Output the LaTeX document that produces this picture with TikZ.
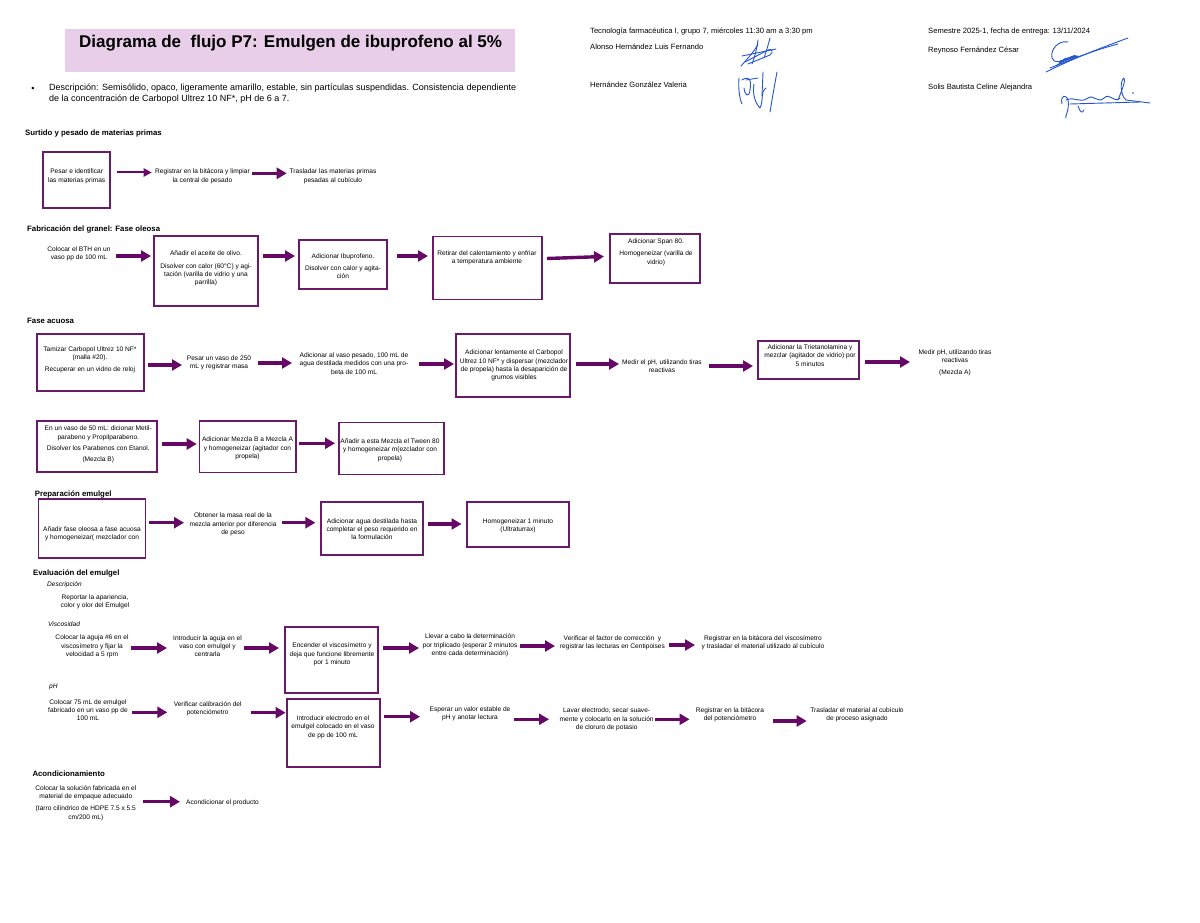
\documentclass[tikz,border=0pt]{standalone}
\usepackage{fontspec}
\setmainfont{Liberation Sans}
\usetikzlibrary{arrows.meta}
\definecolor{boxc}{RGB}{106,26,106}
\definecolor{arrc}{RGB}{102,8,102}
\definecolor{titlef}{RGB}{232,206,232}
\definecolor{sigc}{RGB}{35,85,205}
\begin{document}
\begin{tikzpicture}[x=1pt,y=-1pt,
  txt/.style={font=\fontsize{6.6}{8.3}\selectfont, align=center, inner sep=0pt},
  pbox/.style={draw=boxc, line width=1.6pt, fill=white, inner sep=0pt},
  arr/.style={draw=arrc, line width=3.4pt, -{Triangle[length=10pt,width=11pt]}},
  arrthin/.style={draw=arrc, line width=2pt, -{Triangle[length=8pt,width=8pt]}},
  head/.style={font=\fontsize{7.8}{9}\selectfont\bfseries, anchor=west, inner sep=0pt},
  lab/.style={font=\fontsize{6.6}{8}\selectfont\itshape, anchor=west, inner sep=0pt},
  info/.style={font=\fontsize{7.6}{9}\selectfont, anchor=west, inner sep=0pt},
  sg/.style={draw=sigc, line width=0.9pt, line cap=round, line join=round}
]
\fill[white] (0,0) rectangle (1200,923);
\useasboundingbox (0,0) rectangle (1200,923);

% ---------- header ----------
\node[fill=titlef, minimum width=450pt, minimum height=43pt, inner sep=0pt] (titlebox) at (290,51) {};
\node[font=\fontsize{17}{20}\selectfont\bfseries, inner sep=0pt] (title) at (290.6,43) {Diagrama de~ flujo P7: Emulgen de ibuprofeno al 5\%};
\node[font=\fontsize{9}{11}\selectfont, inner sep=0pt] (bullet) at (33,89) {•};
\node[font=\fontsize{9}{11.3}\selectfont, anchor=north west, align=left, inner sep=0pt] (desc) at (49,83.5) {Descripción: Semisólido, opaco, ligeramente amarillo, estable, sin partículas suspendidas. Consistencia dependiente\\de la concentración de Carbopol Ultrez 10 NF*, pH de 6 a 7.};

\node[info] (h1) at (590,31.5) {Tecnología farmacéutica I, grupo 7, miércoles 11:30 am a 3:30 pm};
\node[info] (h2) at (590,47) {Alonso Hernández Luis Fernando};
\node[info] (h3) at (590,84.5) {Hernández González Valeria};
\node[info] (h4) at (928,31.5) {Semestre 2025-1, fecha de entrega: 13/11/2024};
\node[info] (h5) at (928,50) {Reynoso Fernández César};
\node[info] (h6) at (928,88) {Solis Bautista Celine Alejandra};

% signatures
\draw[sg] (741,66) .. controls (748,58) and (754,52) .. (758,44);
\draw[sg] (745,62) -- (768,50) .. controls (772,48) and (774,52) .. (770,55) -- (748,64);
\draw[sg] (758,40) .. controls (757,48) and (755,56) .. (752,64);
\draw[sg] (770,38) .. controls (768,46) and (766,52) .. (764,58);
\draw[sg] (742,56) -- (776,49);

\draw[sg] (739,78) .. controls (738,90) and (740,100) .. (742,104);
\draw[sg] (742,80) .. controls (748,76) and (752,78) .. (750,90) .. controls (749,98) and (745,96) .. (744,88);
\draw[sg] (754,84) .. controls (752,95) and (756,104) .. (760,108) .. controls (764,100) and (760,92) .. (766,88);
\draw[sg] (763,72) -- (762,96);
\draw[sg] (777,72) .. controls (774,88) and (772,100) .. (770,112);
\draw[sg] (746,80) -- (758,78);

\draw[sg] (1068,42) .. controls (1058,40) and (1050,50) .. (1052,58) .. controls (1054,64) and (1062,62) .. (1066,58);
\draw[sg] (1046,72) .. controls (1070,60) and (1095,50) .. (1128,38);
\draw[sg] (1050,68) .. controls (1075,58) and (1095,50) .. (1118,44);
\draw[sg] (1056,66) .. controls (1066,58) and (1072,56) .. (1078,56) -- (1062,64);
\draw[sg, line width=2.2pt] (1060,62) -- (1075,56);

\draw[sg] (1062,104) .. controls (1060,95) and (1066,94) .. (1068,100) .. controls (1070,110) and (1064,118) .. (1066,118);
\draw[sg] (1066,100) .. controls (1075,96) and (1080,104) .. (1088,98) .. controls (1094,94) and (1098,104) .. (1104,98) .. controls (1110,92) and (1114,104) .. (1120,98);
\draw[sg] (1118,100) .. controls (1122,90) and (1126,80) .. (1124,78) .. controls (1120,80) and (1120,95) .. (1126,100) -- (1150,103);
\draw[sg] (1070,104) -- (1140,102);
\fill[sigc] (1133,93) circle (0.9);
\draw[sg] (1078,106) .. controls (1080,112) and (1082,114) .. (1084,110);

% ---------- Surtido ----------
\node[head] (s1) at (25,133) {Surtido y pesado de materias primas};
\node[pbox, minimum width=67.3pt, minimum height=56pt] (b1) at (76.35,180) {};
\node[txt] (t1) at (76.7,176.3) {Pesar e identificar\\las materias primas};
\node[txt] (t2) at (202.5,176.2) {Registrar en la bitácora y limpiar\\la central de pesado};
\node[txt] (t3) at (333,176.2) {Trasladar las materias primas\\pesadas al cubículo};
\coordinate (a1s) at (116.7,172.5); \coordinate (a1e) at (151.7,172.5);
\coordinate (a2s) at (251.7,173.3); \coordinate (a2e) at (286.7,173.3);
\draw[arrthin] (a1s) -- (a1e);
\draw[arr] (a2s) -- (a2e);

% ---------- Fase oleosa ----------
\node[head] (s2) at (27,229) {Fabricación del granel: Fase oleosa};
\node[txt] (t4) at (79,254) {Colocar el BTH en un\\vaso pp de 100 mL};
\node[pbox, minimum width=104pt, minimum height=70pt] (b5) at (206,271) {};
\node[txt] (t5) at (206,268.5) {Añadir el aceite de olivo.\\[4pt]Disolver con calor (60°C) y agi-\\tación (varilla de vidrio y una\\parrilla)};
\node[pbox, minimum width=88pt, minimum height=49pt] (b6) at (343,264.5) {};
\node[txt] (t6) at (343,266) {Adicionar Ibuprofeno.\\[4pt]Disolver con calor y agita-\\ción};
\node[pbox, minimum width=109pt, minimum height=63pt] (b7) at (487.5,268) {};
\node[txt] (t7) at (487,258) {Retirar del calentamiento y enfriar\\a temperatura ambiente};
\node[pbox, minimum width=90pt, minimum height=49pt] (b8) at (655,258.5) {};
\node[txt] (t8) at (656,252) {Adicionar Span 80.\\[4pt]Homogeneizar (varilla de\\vidrio)};
\coordinate (a3s) at (116,256); \coordinate (a3e) at (151,256);
\coordinate (a4s) at (263,256); \coordinate (a4e) at (295,256);
\coordinate (a5s) at (397,256); \coordinate (a5e) at (428,256);
\coordinate (a6s) at (547,258.5); \coordinate (a6e) at (604,256.5);
\draw[arr] (a3s) -- (a3e);
\draw[arr] (a4s) -- (a4e);
\draw[arr] (a5s) -- (a5e);
\draw[arr] (a6s) -- (a6e);

% ---------- Fase acuosa ----------
\node[head] (s3) at (27,321) {Fase acuosa};
\node[pbox, minimum width=107pt, minimum height=57pt] (b9) at (90.5,362.5) {};
\node[txt] (t9) at (90,359.5) {Tamizar Carbopol Ultrez 10 NF*\\(malla \#20).\\[3pt]Recuperar en un vidrio de reloj};
\node[txt] (t10) at (219,362.5) {Pesar un vaso de 250\\mL y registrar masa};
\node[txt] (t11) at (354,363.5) {Adicionar al vaso pesado, 100 mL de\\agua destilada medidos con una pro-\\beta de 100 mL};
\node[pbox, minimum width=114pt, minimum height=63pt] (b12) at (513,365.5) {};
\node[txt] (t12) at (514,365.5) {Adicionar lentamente el Carbopol\\Ultrez 10 NF* y dispersar (mezclador\\de propela) hasta la desaparición de\\grumos visibles};
\node[txt] (t13) at (662,366) {Medir el pH, utilizando tiras\\reactivas};
\node[pbox, minimum width=101pt, minimum height=38pt] (b14) at (808.5,360) {};
\node[txt] (t14) at (810,355.5) {Adicionar la Trietanolamina y\\mezclar (agitador de vidrio) por\\5 minutos};
\node[txt] (t15) at (955,362.5) {Medir pH, utilizando tiras\\reactivas\\[3pt](Mezcla A)};
\coordinate (a7s) at (148,365); \coordinate (a7e) at (182,365);
\coordinate (a8s) at (258,363); \coordinate (a8e) at (292,363);
\coordinate (a9s) at (419,364); \coordinate (a9e) at (454,364);
\coordinate (a10s) at (576,364); \coordinate (a10e) at (619,364);
\coordinate (a11s) at (709,366); \coordinate (a11e) at (753,366);
\coordinate (a12s) at (865,362); \coordinate (a12e) at (910,362);
\foreach \i in {7,...,12} {\draw[arr] (a\i s) -- (a\i e);}

% ---------- Mezcla B ----------
\node[pbox, minimum width=120pt, minimum height=50.7pt] (b16) at (96.7,446.35) {};
\node[txt] (t16) at (98.3,444.5) {En un vaso de 50 mL: dicionar Metil-\\parabeno y Propilparabeno.\\[3pt]Disolver los Parabenos con Etanol.\\[3pt](Mezcla B)};
\node[pbox, minimum width=96.7pt, minimum height=51.3pt] (b17) at (247.65,446.65) {};
\node[txt] (t17) at (247.5,448.5) {Adicionar Mezcla B a Mezcla A\\y homogeneizar (agitador con\\propela)};
\node[pbox, minimum width=105pt, minimum height=52pt] (b18) at (391.5,448.3) {};
\node[txt] (t18) at (390,450) {Añadir a esta Mezcla el Tween 80\\y homogeneizar m(ezclador con\\propela)};
\coordinate (a13s) at (161.7,444); \coordinate (a13e) at (196.7,444);
\coordinate (a14s) at (299.3,443.3); \coordinate (a14e) at (335,443.3);
\draw[arr] (a13s) -- (a13e);
\draw[arr] (a14s) -- (a14e);

% ---------- Preparación emulgel ----------
\node[head] (s4) at (34.6,494.5) {Preparación emulgel};
\node[pbox, minimum width=106.9pt, minimum height=59pt] (b19) at (91.95,528.5) {};
\node[txt] (t19) at (92,534) {Añadir fase oleosa a fase acuosa\\y homogeneizar( mezclador con};
\node[txt] (t20) at (233,524.3) {Obtener la masa real de la\\mezcla anterior por diferencia\\de peso};
\node[pbox, minimum width=102pt, minimum height=53pt] (b21) at (372,528.5) {};
\node[txt] (t21) at (372,529.3) {Adicionar agua destilada hasta\\completar el peso requerido en\\la formulación};
\node[pbox, minimum width=102pt, minimum height=45pt] (b22) at (518,524.5) {};
\node[txt] (t22) at (518,525.5) {Homogeneizar 1 minuto\\(Ultraturrax)};
\coordinate (a15s) at (149,522.7); \coordinate (a15e) at (184,522.7);
\coordinate (a16s) at (281.5,522.7); \coordinate (a16e) at (315.4,522.7);
\coordinate (a17s) at (427.7,524); \coordinate (a17e) at (461.5,524);
\draw[arr] (a15s) -- (a15e);
\draw[arr] (a16s) -- (a16e);
\draw[arr] (a17s) -- (a17e);

% ---------- Evaluación ----------
\node[head] (s5) at (33,573) {Evaluación del emulgel};
\node[lab] (l1) at (47,584.5) {Descripción};
\node[txt] (t23) at (95,602) {Reportar la apariencia,\\color y olor del Emulgel};
\node[lab] (l2) at (48,624.5) {Viscosidad};
\node[txt] (t24) at (92,646.5) {Colocar la aguja \#6 en el\\viscosímetro y fijar la\\velocidad a 5 rpm};
\node[txt] (t25) at (207.5,646) {Introducir la aguja en el\\vaso con emulgel y\\centrarla};
\node[pbox, minimum width=93pt, minimum height=66.3pt] (b26) at (331.5,659.85) {};
\node[txt] (t26) at (332,654.3) {Encender el viscosímetro y\\deja que funcione libremente\\por 1 minuto};
\node[txt] (t27) at (470,645.3) {Llevar a cabo la determinación\\por triplicado (esperar 2 minutos\\entre cada determinación)};
\node[txt] (t28) at (612.5,643) {Verificar el factor de corrección~ y\\registrar las lecturas en Centipoises};
\node[txt] (t29) at (763,643) {Registrar en la bitácora del viscosímetro\\y trasladar el material utilizado al cubículo};
\coordinate (a18s) at (131,648); \coordinate (a18e) at (167,648);
\coordinate (a19s) at (244,648); \coordinate (a19e) at (279,648);
\coordinate (a20s) at (383,648); \coordinate (a20e) at (419,648);
\coordinate (a21s) at (520,646); \coordinate (a21e) at (555,646);
\coordinate (a22s) at (669,645); \coordinate (a22e) at (695,645);
\foreach \i in {18,...,22} {\draw[arr] (a\i s) -- (a\i e);}

\node[lab] (l3) at (49,687) {pH};
\node[txt] (t30) at (88,710) {Colocar 75 mL de emulgel\\fabricado en un vaso pp de\\100 mL};
\node[txt] (t31) at (207.7,708.5) {Verificar calibración del\\potenciómetro};
\node[pbox, minimum width=93pt, minimum height=68pt] (b32) at (333.5,733) {};
\node[txt] (t32) at (333,727) {Introducir electrodo en el\\emulgel colocado en el vaso\\de pp de 100 mL};
\node[txt] (t33) at (470,714) {Esperar un valor estable de\\pH y anotar lectura};
\node[txt] (t34) at (606.7,719.5) {Lavar electrodo, secar suave-\\mente y colocarlo en la solución\\de cloruro de potasio};
\node[txt] (t35) at (730,715) {Registrar en la bitácora\\del potenciómetro};
\node[txt] (t36) at (857,715) {Trasladar el material al cubículo\\de proceso asignado};
\coordinate (a23s) at (131.6,712.3); \coordinate (a23e) at (167.3,712.3);
\coordinate (a24s) at (251,712.7); \coordinate (a24e) at (285.6,712.7);
\coordinate (a25s) at (383.7,716.7); \coordinate (a25e) at (420,716.7);
\coordinate (a26s) at (513.6,719.3); \coordinate (a26e) at (549,719.3);
\coordinate (a27s) at (655,719.3); \coordinate (a27e) at (689.5,719.3);
\coordinate (a28s) at (773,721); \coordinate (a28e) at (806.7,721);
\foreach \i in {23,...,28} {\draw[arr] (a\i s) -- (a\i e);}

% ---------- Acondicionamiento ----------
\node[head] (s6) at (32.3,774) {Acondicionamiento};
\node[txt] (t37) at (85.8,803) {Colocar la solución fabricada en el\\material de empaque adecuado\\[4pt](tarro cilíndrico de HDPE 7.5 x 5.5\\cm/200 mL)};
\node[txt] (t38) at (222.5,802.7) {Acondicionar el producto};
\coordinate (a29s) at (143.3,801.7); \coordinate (a29e) at (180,801.7);
\draw[arr] (a29s) -- (a29e);
\end{tikzpicture}
\end{document}
